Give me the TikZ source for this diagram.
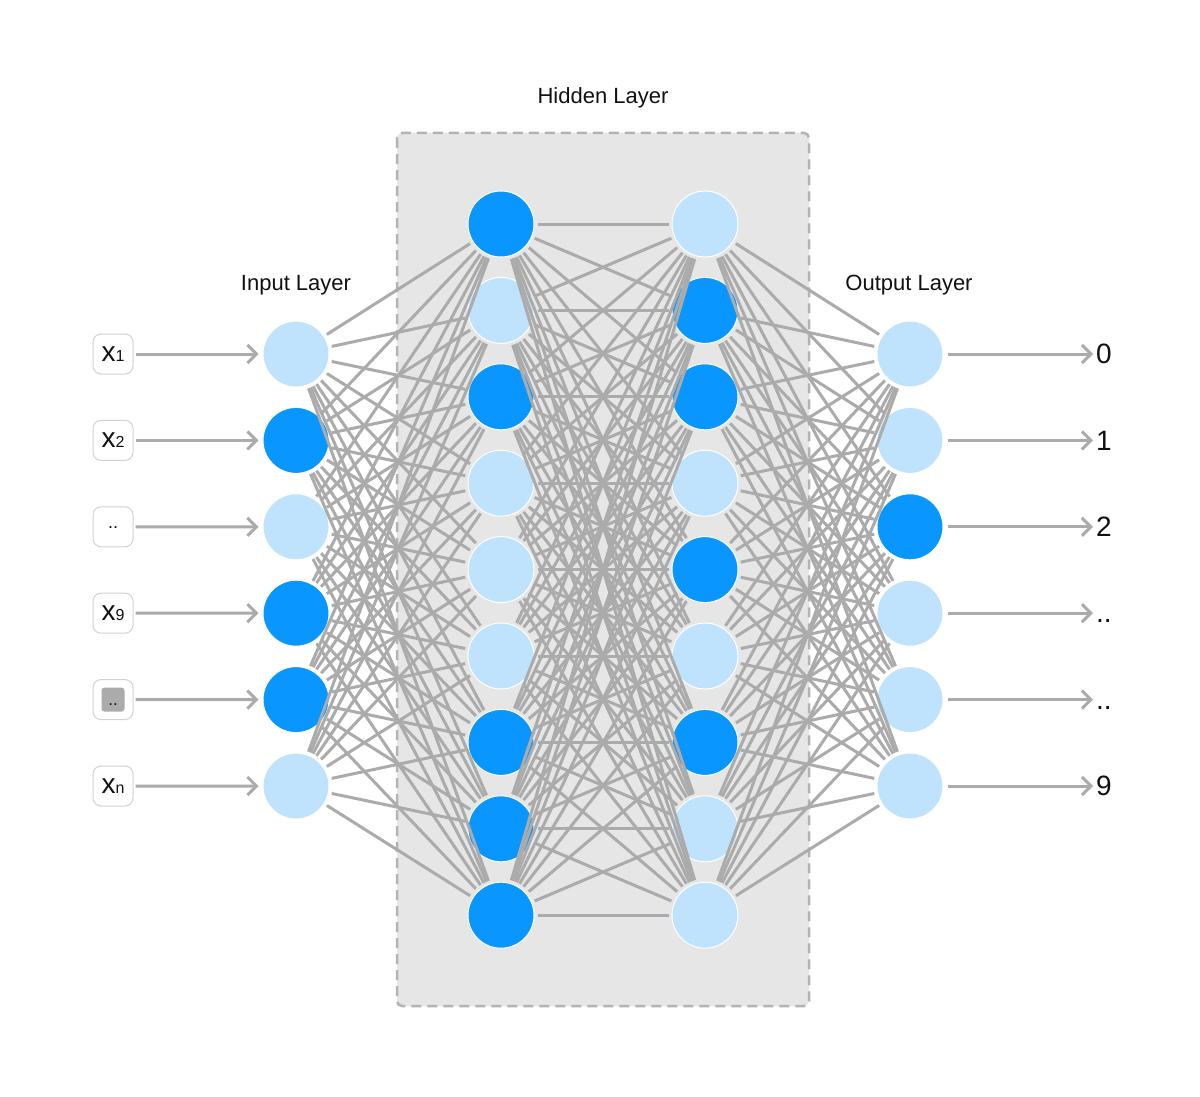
\documentclass[tikz,border=0pt]{standalone}
\usepackage{fontspec}
\setmainfont{Liberation Sans}
\usetikzlibrary{arrows.meta}
\definecolor{dk}{HTML}{0A96FF}
\definecolor{lt}{HTML}{BFE3FC}
\definecolor{ln}{HTML}{ABABAB}
\definecolor{bgc}{HTML}{E6E6E6}
\definecolor{bxl}{HTML}{D2D2D2}
\definecolor{txt}{HTML}{111111}
\begin{document}
\begin{tikzpicture}[x=1pt,y=-1pt,
  neuron/.style={circle,minimum size=66pt,inner sep=0pt,draw=white,line width=1pt},
  conn/.style={draw=ln,line width=3pt,shorten <=3pt,shorten >=3pt},
  arr/.style={draw=ln,line width=3pt,-{Straight Barb[length=9pt,width=18pt]}},
  inbox/.style={draw=bxl,fill=white,rounded corners=8pt,minimum size=40pt,inner sep=0pt,line width=1pt,text=txt},
  title/.style={font=\fontsize{22}{26}\selectfont,text=txt},
  outlab/.style={font=\fontsize{28}{32}\selectfont,text=txt,inner sep=0pt,anchor=west}]
\useasboundingbox (0,0) rectangle (1200,1097);
\fill[white] (0,0) rectangle (1200,1097);
% hidden layer box
\draw[draw=ln!90,fill=bgc,line width=2.5pt,dash pattern=on 10pt off 6pt,rounded corners=5pt] (397,133) rectangle (809,1006);
% titles
\node[title] (tH) at (603,98) {Hidden Layer};
\node[title] (tI) at (296,285) {Input Layer};
\node[title] (tO) at (909,285) {Output Layer};
% input layer
\foreach \c [count=\i] in {lt,dk,lt,dk,dk,lt}
  \node[neuron,fill=\c] (I\i) at (296,{354+(\i-1)*86.4}) {};
% hidden layers
\foreach \c [count=\i] in {dk,lt,dk,lt,lt,lt,dk,dk,dk}
  \node[neuron,fill=\c] (A\i) at (501,{224+(\i-1)*86.4}) {};
\foreach \c [count=\i] in {lt,dk,dk,lt,dk,lt,dk,lt,lt}
  \node[neuron,fill=\c] (B\i) at (705,{224+(\i-1)*86.4}) {};
% output layer
\foreach \c [count=\i] in {lt,lt,dk,lt,lt,lt}
  \node[neuron,fill=\c] (O\i) at (910,{354+(\i-1)*86.4}) {};
% connections
\foreach \i in {1,...,6}
  \foreach \j in {1,...,9}
    \draw[conn] (I\i) -- (A\j);
\foreach \i in {1,...,9}
  \foreach \j in {1,...,9}
    \draw[conn] (A\i) -- (B\j);
\foreach \i in {1,...,9}
  \foreach \j in {1,...,6}
    \draw[conn] (B\i) -- (O\j);
% input boxes
\newcommand{\xsub}[1]{{\fontsize{28}{28}\selectfont x}{\fontsize{16}{16}\selectfont #1}}
\node[inbox] (X1) at (113,354) {\xsub{1}};
\node[inbox] (X2) at (113,440.4) {\xsub{2}};
\node[inbox] (X3) at (113,526.8) {\raisebox{-4pt}{\fontsize{18}{18}\selectfont ..}};
\node[inbox] (X4) at (113,613.2) {\xsub{9}};
\node[inbox] (X5) at (113,699.6) {};
\node[fill=ln,rounded corners=3pt,minimum width=23pt,minimum height=24pt,inner sep=0pt] (X5i) at (X5) {};
\node[text=txt,font=\fontsize{17}{17}\selectfont,inner sep=0pt] (X5d) at (113,705) {..};
\node[inbox] (X6) at (113,786) {\xsub{n}};
% input arrows
\foreach \i in {1,...,6}
  \draw[arr,shorten <=2pt,shorten >=4pt] (X\i) -- (I\i);
% output labels and arrows
\foreach \t [count=\i] in {0,1,2,..,..,9} {
  \node[outlab] (L\i) at (1096,{354+(\i-1)*86.4}) {\vphantom{0}\t};
  \draw[arr,shorten <=4pt,shorten >=3pt] (O\i) -- (L\i);
}
\end{tikzpicture}
\end{document}
